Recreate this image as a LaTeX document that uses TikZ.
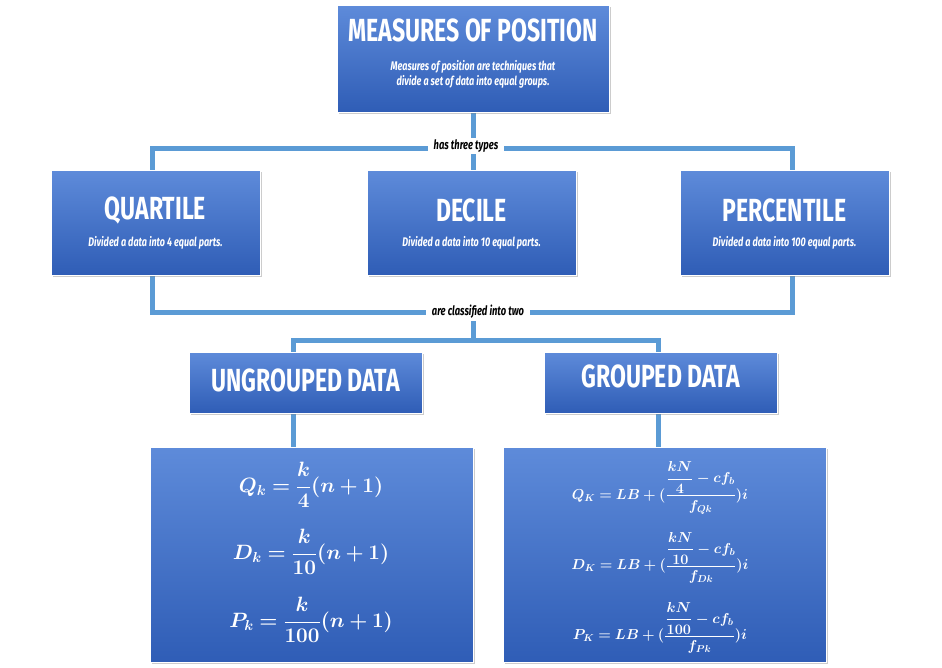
\documentclass[tikz,border=0pt]{standalone}
\usepackage{amsmath}
\usepackage{bm}
\usepackage{fontspec}
\setmainfont{Fira Sans}
\newfontfamily\cond[FakeStretch=0.72]{Fira Sans}
\usetikzlibrary{shadows}
\definecolor{ln}{HTML}{5B9BD5}
\definecolor{btop}{HTML}{5E8BDA}
\definecolor{bbot}{HTML}{2F5DB6}
\tikzset{
  box/.style={draw=white,line width=0.4pt,top color=btop,bottom color=bbot,text=white,
    drop shadow={shadow xshift=2pt,shadow yshift=-2pt,opacity=0.4}},
  conn/.style={draw=ln,line width=5pt},
  lab/.style={fill=white,font=\cond\bfseries\itshape\fontsize{13}{14}\selectfont,inner sep=2pt},
  ttl/.style={font=\cond\bfseries\fontsize{32}{34}\selectfont},
  sub/.style={font=\cond\bfseries\itshape\fontsize{12.5}{15}\selectfont}
}
\begin{document}
\begin{tikzpicture}[x=1pt,y=-1pt]
\useasboundingbox (0,0) rectangle (942,667);
\coordinate (tl) at (152,148); \coordinate (tr) at (792,148);
\coordinate (ml) at (152,312); \coordinate (mr) at (792,312);
\coordinate (gl) at (293,340); \coordinate (gr) at (658,340);
\draw[conn] (473,112) -- (473,148);
\draw[conn] (152,172) -- (tl) -- (tr) -- (792,172);
\draw[conn] (473,148) -- (473,172);
\draw[conn] (152,274) -- (ml) -- (mr) -- (792,274);
\draw[conn] (473,312) -- (473,340);
\draw[conn] (293,354) -- (gl) -- (gr) -- (658,354);
\draw[conn] (293,412) -- (293,449);
\draw[conn] (658,412) -- (658,449);
\node[lab,inner xsep=6pt] (l1) at (466,146) {has three types};
\node[lab,inner xsep=6pt] (l2) at (478,312) {are classified into two};
\node[box,minimum width=272,minimum height=107] (top) at (473,58.5) {};
\node[ttl,text=white] at (473,30) {MEASURES OF POSITION};
\node[sub,text=white,align=center] at (473,74) {Measures of position are techniques that\\divide a set of data into equal groups.};
\foreach \n/\x/\t/\s in {q/155.5/QUARTILE/4, d/471.5/DECILE/10, p/784.5/PERCENTILE/100}{
  \node[box,minimum width=209,minimum height=105] (\n) at (\x,222.5) {};
  \node[ttl,text=white] at (\x,210) {\t};
  \node[sub,text=white] at (\x,243) {Divided a data into \s\ equal parts.};
}
\node[box,minimum width=233,minimum height=61] (ug) at (305.5,382.5) {};
\node[ttl,text=white] at (305.5,380) {UNGROUPED DATA};
\node[box,minimum width=233,minimum height=61] (gd) at (660.5,382.5) {};
\node[ttl,text=white] at (660.5,376) {GROUPED DATA};
\node[box,minimum width=323,minimum height=215] (fu) at (311.5,554.5) {};
\node[box,minimum width=323,minimum height=215] (fg) at (664.5,554.5) {};
\begin{scope}[every node/.style={text=white,font=\fontsize{22}{26}\selectfont}]
\node at (311,485) {$\bm{Q_k=\dfrac{k}{4}(n+1)}$};
\node at (311,552) {$\bm{D_k=\dfrac{k}{10}(n+1)}$};
\node at (311,620) {$\bm{P_k=\dfrac{k}{100}(n+1)}$};
\end{scope}
\begin{scope}[every node/.style={text=white,font=\fontsize{14}{17}\selectfont}]
\node at (660,488) {$\bm{Q_K=LB+(\dfrac{\dfrac{kN}{4}-cf_b}{f_{Qk}})i}$};
\node at (660,558) {$\bm{D_K=LB+(\dfrac{\dfrac{kN}{10}-cf_b}{f_{Dk}})i}$};
\node at (660,628) {$\bm{P_K=LB+(\dfrac{\dfrac{kN}{100}-cf_b}{f_{Pk}})i}$};
\end{scope}
\end{tikzpicture}
\end{document}
